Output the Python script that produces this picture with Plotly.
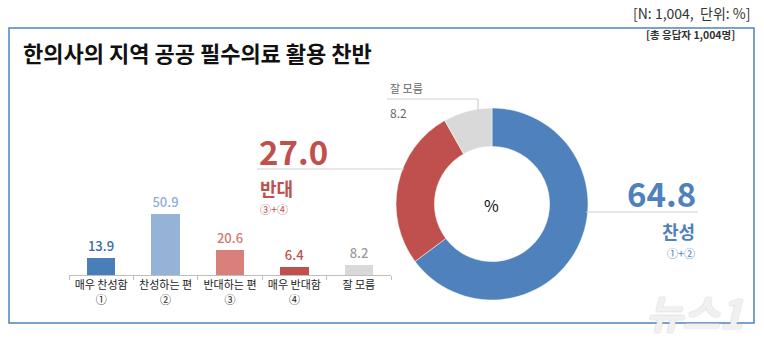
import plotly.graph_objects as go

W, H = 764, 346
FONT = "Noto Sans CJK KR"

# Detailed responses
categories = ["매우 찬성함<br>①", "찬성하는 편<br>②", "반대하는 편<br>③", "매우 반대함<br>④", "잘 모름"]
values = [13.9, 50.9, 20.6, 6.4, 8.2]
bar_colors = ["#4a7ebb", "#95b3d7", "#d9807c", "#c0504d", "#d9d9d9"]
label_colors = ["#3b6ba8", "#8eaedb", "#d9736f", "#c0504d", "#9a9a9a"]

# Grouped totals
groups = ["찬성", "반대", "잘 모름"]
group_values = [64.8, 27.0, 8.2]
group_colors = ["#4f81bd", "#c0504d", "#d9d9d9"]


def px(x):
    return x / W


def py(y):
    return 1 - y / H


fig = go.Figure()

fig.add_trace(go.Bar(
    x=categories, y=values,
    marker=dict(color=bar_colors, line=dict(width=0)),
    width=0.44,
    text=[f"{v:.1f}" for v in values],
    textposition="outside",
    textfont=dict(family=FONT, size=13, color=label_colors, weight=500),
    cliponaxis=False,
    hoverinfo="skip",
    xaxis="x", yaxis="y",
))

fig.add_trace(go.Pie(
    labels=groups, values=group_values,
    marker=dict(colors=group_colors, line=dict(color="white", width=0.5)),
    hole=0.6, sort=False, direction="clockwise", rotation=0,
    textinfo="none", hoverinfo="skip", showlegend=False,
    domain=dict(x=[px(396), px(588)], y=[py(300), py(108)]),
))

ann = []


def txt(x, y, s, size, color, xanchor="left", weight="normal", family=FONT):
    ann.append(dict(
        x=px(x), y=py(y), xref="paper", yref="paper", text=s,
        showarrow=False, xanchor=xanchor, yanchor="middle",
        font=dict(family=family, size=size, color=color, weight=weight),
    ))


txt(752, 13, "[N: 1,004,  단위: %]", 14, "#333333", xanchor="right")
txt(21, 52, "한의사의 지역 공공 필수의료 활용 찬반", 22, "#111111", weight="bold")
txt(737, 34, "[총 응답자 1,004명]", 10.5, "#333333", xanchor="right", weight="bold")

# Donut centre and call-outs
txt(492, 205, "%", 16, "#111111", xanchor="center")

txt(257, 151, f"{group_values[1]:.1f}", 33, "#c0504d", weight=600)
txt(258, 188, "반대", 18, "#c0504d", weight="bold")
txt(258, 209, "③+④", 11, "#c0504d")

txt(698, 193, f"{group_values[0]:.1f}", 33, "#4f81bd", xanchor="right", weight=600)
txt(697, 231, "찬성", 18, "#4f81bd", xanchor="right", weight="bold")
txt(697, 253, "①+②", 11, "#4f81bd", xanchor="right")

txt(388, 88, groups[2], 11, "#666666")
txt(388, 113, f"{group_values[2]:.1f}", 12, "#666666")

# Watermark
ann.append(dict(
    x=px(694), y=py(312), xref="paper", yref="paper", text="<i>뉴스1</i>",
    showarrow=False, xanchor="center", yanchor="middle",
    font=dict(family=FONT, size=40, color="rgba(250,250,250,0.9)", weight="bold",
              shadow="0px 0px 1.5px #a8a8a8"),
))

shapes = [
    # frame
    dict(type="rect", xref="paper", yref="paper", x0=px(9), x1=px(754), y0=py(323), y1=py(28),
         line=dict(color="#4f81bd", width=1.5), layer="below"),
    # leader lines
    dict(type="line", xref="paper", yref="paper", x0=px(257), x1=px(404), y0=py(169), y1=py(169),
         line=dict(color="#cfcfcf", width=1.2)),
    dict(type="line", xref="paper", yref="paper", x0=px(586), x1=px(698), y0=py(212), y1=py(212),
         line=dict(color="#cfcfcf", width=1.2)),
    dict(type="line", xref="paper", yref="paper", x0=px(387), x1=px(478), y0=py(99), y1=py(99),
         line=dict(color="#cfcfcf", width=1.2)),
    dict(type="line", xref="paper", yref="paper", x0=px(478), x1=px(478), y0=py(99), y1=py(111),
         line=dict(color="#cfcfcf", width=1.2)),
]

fig.update_layout(
    width=W, height=H,
    margin=dict(l=0, r=0, t=0, b=0),
    paper_bgcolor="white", plot_bgcolor="rgba(0,0,0,0)",
    showlegend=False,
    annotations=ann, shapes=shapes,
    xaxis=dict(
        domain=[px(69), px(391)], anchor="y",
        range=[-0.5, 4.5], type="category",
        showline=True, linecolor="#bfbfbf", linewidth=1.2,
        ticks="outside", tickson="boundaries", ticklen=4, tickcolor="#bfbfbf",
        showgrid=False, zeroline=False,
        tickfont=dict(family=FONT, size=11, color="#222222"),
    ),
    yaxis=dict(
        domain=[py(275), py(203)], anchor="x",
        range=[0, 60], visible=False, showgrid=False, zeroline=False,
    ),
    bargap=0,
)

fig.write_html("out.html")
